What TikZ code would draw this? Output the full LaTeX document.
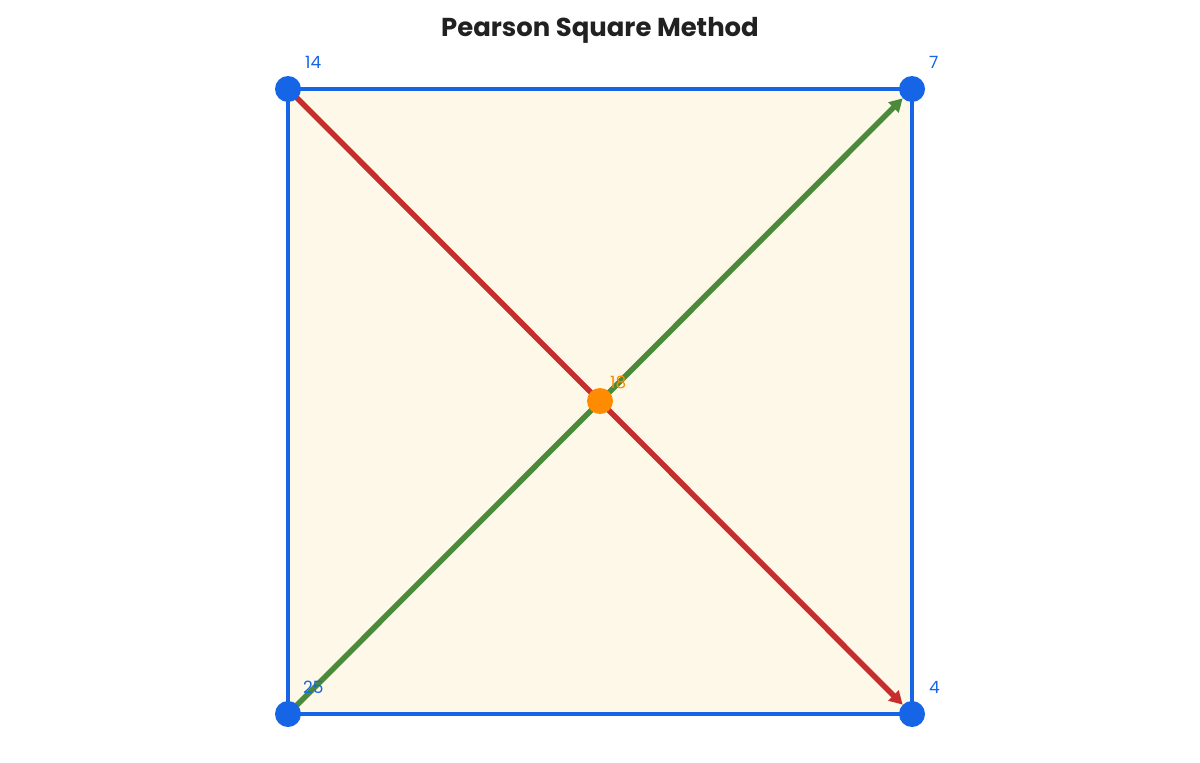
\documentclass[tikz,border=0pt]{standalone}
\usepackage{fontspec}
\setmainfont{Poppins}
\usepackage{tikz}
\usetikzlibrary{arrows.meta, positioning, backgrounds}
\definecolor{sqblue}{HTML}{1565E6}
\definecolor{sqfill}{HTML}{FEF8E8}
\definecolor{arrred}{HTML}{C62E2E}
\definecolor{arrgreen}{HTML}{4A8A3A}
\definecolor{midorange}{HTML}{FF8C00}
\tikzstyle{corner} = [circle, fill=sqblue, minimum size=26bp, inner sep=0pt]
\tikzstyle{middle} = [circle, fill=midorange, minimum size=26bp, inner sep=0pt]
\tikzstyle{value} = [anchor=south west, inner sep=0pt, font=\fontsize{17}{19}\selectfont]
\tikzstyle{diag} = [line width=5.5bp, -{Triangle[length=13bp,width=14bp]}]

\begin{document}
\begin{tikzpicture}[x=1bp, y=-1bp]
    \useasboundingbox (0,0) rectangle (1200,763);
    \node [font=\fontsize{26}{30}\selectfont\bfseries, text=black!87] (title) at (600,30) {Pearson Square Method};
    \node [corner] (tl) at (288,89) {};
    \node [corner] (tr) at (912,89) {};
    \node [corner] (bl) at (288,714) {};
    \node [corner] (br) at (912,714) {};
    \node [middle] (mid) at (600,401) {};
    \node [value, text=sqblue] at ([shift={(17,-20)}]tl.center) {14};
    \node [value, text=sqblue] at ([shift={(17,-20)}]tr.center) {7};
    \node [value, text=sqblue] at ([shift={(15,-20)}]bl.center) {25};
    \node [value, text=sqblue] at ([shift={(17,-20)}]br.center) {4};
    \node [value, text=midorange] at ([shift={(10,-12)}]mid.center) {18};
    \begin{scope}[on background layer]
        \draw [sqblue, line width=4.5bp, fill=sqfill] (tl.center) -- (tr.center) -- (br.center) -- (bl.center) -- cycle;
        \draw [diag, arrred] (tl.center) -- (br);
        \draw [diag, arrgreen] (bl.center) -- (tr);
    \end{scope}
\end{tikzpicture}
\end{document}
